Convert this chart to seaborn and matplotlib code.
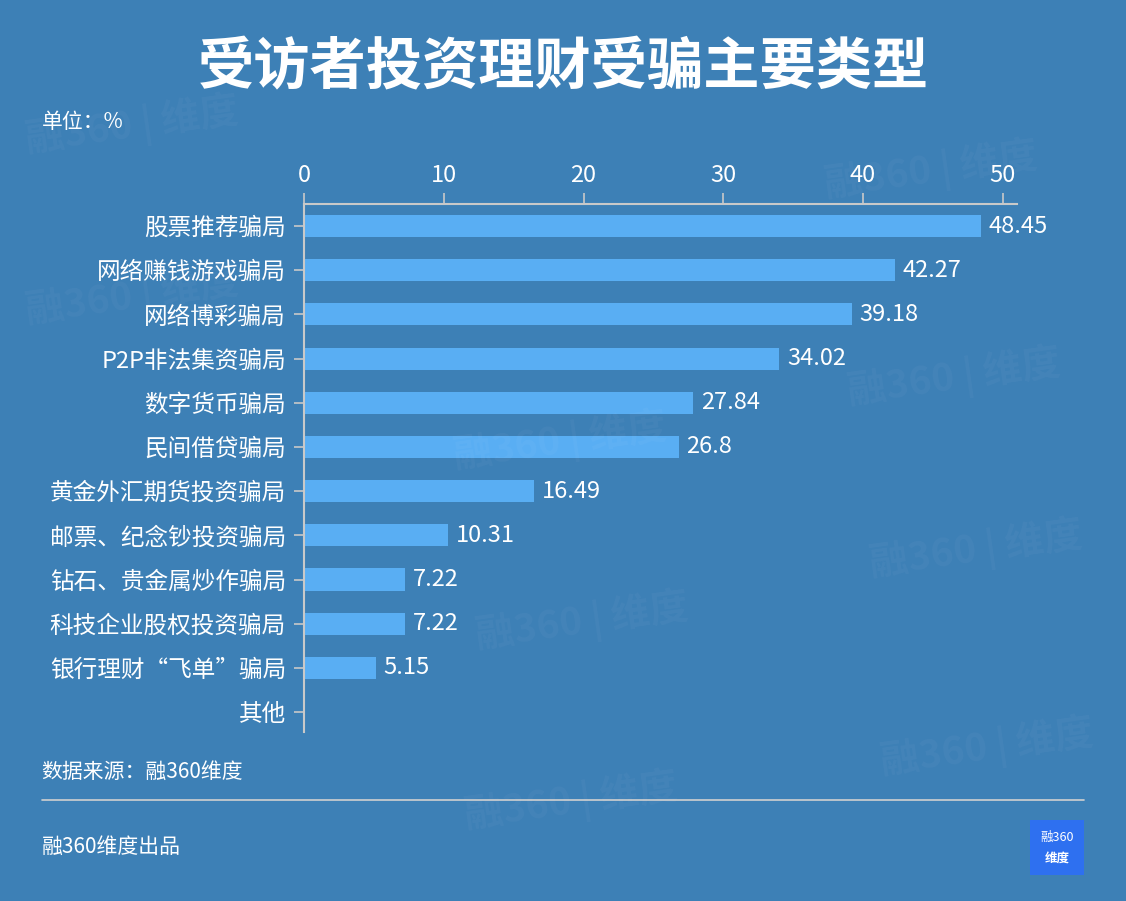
import numpy as np
import pandas as pd
import seaborn as sns
import matplotlib.pyplot as plt
from matplotlib.patches import FancyBboxPatch

categories = ['股票推荐骗局', '网络赚钱游戏骗局', '网络博彩骗局', 'P2P非法集资骗局', '数字货币骗局',
              '民间借贷骗局', '黄金外汇期货投资骗局', '邮票、纪念钞投资骗局', '钻石、贵金属炒作骗局',
              '科技企业股权投资骗局', '银行理财“飞单”骗局', '其他']
values = [48.45, 42.27, 39.18, 34.02, 27.84, 26.8, 16.49, 10.31, 7.22, 7.22, 5.15, np.nan]
value_labels = ['48.45', '42.27', '39.18', '34.02', '27.84', '26.8', '16.49', '10.31', '7.22', '7.22', '5.15', '']
x_ticks = [0, 10, 20, 30, 40, 50]

bg = '#3d80b6'
bar_color = '#59aef3'
axis_color = '#c9c9c9'

sns.set_theme(style='white')
plt.rcParams['font.family'] = ['Noto Sans CJK SC', 'DejaVu Sans']

df = pd.DataFrame({'cat': categories, 'val': values})

fig = plt.figure(figsize=(11.26, 9.01), dpi=100, facecolor=bg)
ax = fig.add_axes([0.270, 0.1876, 0.633, 0.586])
ax.set_facecolor(bg)

# faint watermarks
for wx, wy in [(0.02, 0.86), (0.73, 0.81), (0.02, 0.67), (0.75, 0.58), (0.40, 0.51),
               (0.77, 0.39), (0.42, 0.31), (0.78, 0.17), (0.41, 0.11)]:
    fig.text(wx, wy, '融360 | 维度', color='white', alpha=0.035, fontsize=28,
             fontweight='bold', rotation=8, ha='left', va='center')

sns.barplot(data=df, x='val', y='cat', orient='h', color=bar_color, width=0.5,
            saturation=1, linewidth=0, ax=ax)

for i, (v, lab) in enumerate(zip(values, value_labels)):
    if lab:
        ax.text(v + 0.55, i, lab, color='white', fontsize=17, fontweight='medium',
                va='center', ha='left')

ax.set_xlim(0, 51)
ax.set_ylim(11.45, -0.5)
ax.set_xticks(x_ticks)
ax.xaxis.tick_top()
ax.xaxis.set_label_position('top')
ax.set_xlabel('')
ax.set_ylabel('')
ax.tick_params(axis='x', colors=axis_color, labelcolor='white', labelsize=17,
               direction='out', length=8, width=1.2, pad=4, top=True, bottom=False)
ax.tick_params(axis='y', colors=axis_color, labelcolor='white', labelsize=17,
               direction='out', length=7, width=1.2, pad=6, left=True)
for t in ax.get_xticklabels() + ax.get_yticklabels():
    t.set_fontweight('medium')
for s in ['right', 'bottom']:
    ax.spines[s].set_visible(False)
for s in ['top', 'left']:
    ax.spines[s].set_color(axis_color)
    ax.spines[s].set_linewidth(1.5)

fig.text(0.5, 0.925, '受访者投资理财受骗主要类型', color='white', fontsize=40.5,
         fontweight='bold', ha='center', va='center')
fig.text(0.037, 0.865, '单位：%', color='white', fontsize=15, fontweight='medium',
         ha='left', va='center')
fig.text(0.037, 0.143, '数据来源：融360维度', color='white', fontsize=15, fontweight='medium',
         ha='left', va='center')
fig.add_artist(plt.Line2D([0.037, 0.963], [0.112, 0.112], color='#d0d0d0', lw=1.2))
fig.text(0.037, 0.060, '融360维度出品', color='white', fontsize=15, fontweight='medium',
         ha='left', va='center')

logo = FancyBboxPatch((0.915, 0.029), 0.048, 0.061, boxstyle='square,pad=0',
                      transform=fig.transFigure, facecolor='#2e70f0', edgecolor='none')
fig.add_artist(logo)
fig.text(0.939, 0.071, '融360', color='white', fontsize=9, ha='center', va='center')
fig.text(0.939, 0.047, '维度', color='white', fontsize=9, fontweight='bold', ha='center', va='center')

fig.savefig('out.png', dpi=100, facecolor=bg)
